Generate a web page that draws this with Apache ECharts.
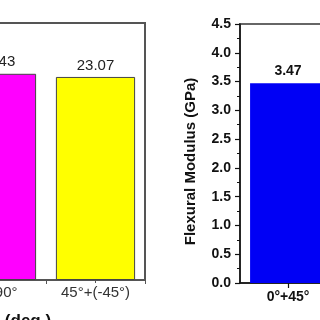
<!DOCTYPE html>
<html>
<head>
<meta charset="utf-8">
<script src="https://cdn.jsdelivr.net/npm/echarts@6/dist/echarts.min.js"></script>
<style>
  html, body { margin: 0; padding: 0; background: #fff; }
  #main { width: 320px; height: 320px; }
</style>
</head>
<body>
<div id="main"></div>
<script>
// left panel (strength), only the right part is visible
const strengthCats = ['0°-90°', '45°+(-45°)'];
const strengthVals = [23.43, 23.07];
const strengthColors = ['#ff00ff', '#ffff00'];

// right panel (modulus)
const modulusCats = ['0°+45°'];
const modulusVals = [3.47];
const modulusTicks = [0, 0.5, 1, 1.5, 2, 2.5, 3, 3.5, 4, 4.5];

const FONT = 'Liberation Sans, Arial, sans-serif';

const myChart = echarts.init(document.getElementById('main'));

const option = {
  backgroundColor: '#fff',
  animation: false,
  grid: [
    { left: -53, right: 175, top: 23, bottom: 40, outerBoundsMode: 'none', containLabel: false,
      show: true, borderColor: '#555', borderWidth: 2, backgroundColor: 'transparent' },
    { left: 240, right: -16, top: 24, bottom: 37, outerBoundsMode: 'none', containLabel: false,
      show: true, borderColor: '#666', borderWidth: 2, backgroundColor: 'transparent' }
  ],
  xAxis: [
    {
      gridIndex: 0,
      type: 'category',
      data: strengthCats,
      axisLine: { lineStyle: { color: '#555', width: 1.5 } },
      axisTick: { show: true, length: 4, lineStyle: { color: '#555' } },
      axisLabel: { color: '#333', fontFamily: FONT, fontSize: 15, margin: 5 },
      name: '(deg.)',
      nameLocation: 'middle',
      nameGap: 33,
      nameTextStyle: { color: '#111', fontFamily: FONT, fontWeight: 'bold', fontSize: 17, padding: [0, 36, 0, 0] }
    },
    {
      gridIndex: 0,
      type: 'category',
      position: 'bottom',
      data: strengthCats,
      axisLine: { show: false },
      axisTick: { show: true, alignWithLabel: true, length: 3, lineStyle: { color: '#555' } },
      axisLabel: { show: false }
    },
    {
      gridIndex: 1,
      type: 'category',
      data: modulusCats,
      axisLine: { lineStyle: { color: '#111', width: 1.5 } },
      axisTick: { show: true, alignWithLabel: true, length: 5, lineStyle: { color: '#111', width: 1.2 } },
      axisLabel: { color: '#111', fontFamily: FONT, fontWeight: 'bold', fontSize: 14, margin: 7 }
    }
  ],
  yAxis: [
    {
      gridIndex: 0,
      type: 'value',
      min: 0,
      max: 29.2,
      show: false,
      splitLine: { show: false }
    },
    {
      gridIndex: 1,
      type: 'value',
      min: modulusTicks[0],
      max: modulusTicks[modulusTicks.length - 1],
      interval: 0.5,
      splitLine: { show: false },
      axisLine: { show: true, lineStyle: { color: '#111', width: 1.5 } },
      axisTick: { show: true, length: 5, lineStyle: { color: '#111', width: 1.2 } },
      minorTick: { show: true, splitNumber: 2, length: 3, lineStyle: { color: '#111' } },
      axisLabel: {
        color: '#111', fontFamily: FONT, fontWeight: 'bold', fontSize: 14, margin: 9,
        formatter: v => v.toFixed(1)
      },
      name: 'Flexural Modulus (GPa)',
      nameLocation: 'middle',
      nameGap: 42,
      nameTextStyle: { color: '#111', fontFamily: FONT, fontWeight: 'bold', fontSize: 15, padding: [0, 16, 0, 0] }
    }
  ],
  series: [
    {
      type: 'bar',
      xAxisIndex: 0,
      yAxisIndex: 0,
      barWidth: '80%',
      data: strengthVals.map((v, i) => ({ value: v, itemStyle: { color: strengthColors[i] } })),
      itemStyle: { borderColor: '#444', borderWidth: 1 },
      label: {
        show: true, position: 'top', distance: 4,
        color: '#222', fontFamily: FONT, fontSize: 15,
        formatter: p => p.value.toFixed(2)
      }
    },
    {
      type: 'bar',
      xAxisIndex: 2,
      yAxisIndex: 1,
      barWidth: '79%',
      data: modulusVals,
      itemStyle: { color: '#0000f5' },
      label: {
        show: true, position: 'top', distance: 5,
        color: '#111', fontFamily: FONT, fontWeight: 'bold', fontSize: 14,
        formatter: p => p.value.toFixed(2)
      }
    }
  ]
};

myChart.setOption(option);
</script>
</body>
</html>
